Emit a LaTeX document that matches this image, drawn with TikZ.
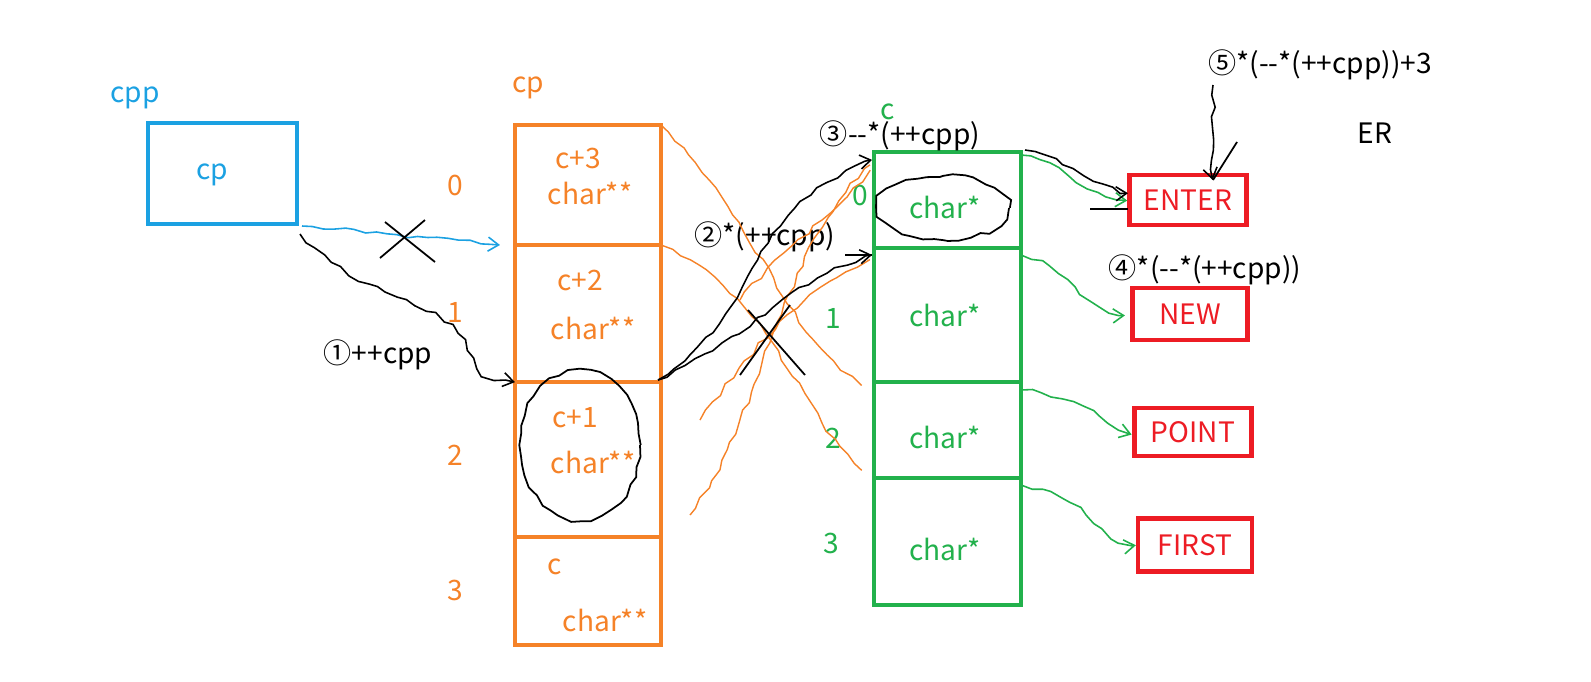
\documentclass[tikz,border=0pt]{standalone}
\usepackage{fontspec}
\setmainfont{Noto Sans CJK SC}
\usetikzlibrary{arrows.meta,decorations.pathmorphing}
\definecolor{cblue}{RGB}{27,161,226}
\definecolor{corange}{RGB}{245,130,40}
\definecolor{cgreen}{RGB}{34,177,76}
\definecolor{cred}{RGB}{237,28,36}
\tikzset{
  txt/.style={font=\fontsize{16}{19}\selectfont, inner sep=0pt},
  hand/.style={decorate, decoration={random steps, segment length=6pt, amplitude=1.2pt}},
  arr/.style={-{Straight Barb[length=6pt,width=8pt]}, line width=0.9pt, hand},
  str/.style={draw=cred, text=cred, line width=2.4pt, txt},
}
\begin{document}
\begin{tikzpicture}[x=0.02cm,y=-0.02cm]
\pgfmathsetseed{7}
\begin{pgfinterruptboundingbox}
% cpp
\node[txt, cblue] (lcpp) at (135,98) {cpp};
\draw[cblue, line width=2.4pt] (148,123) rectangle (297,224);
\node[txt, cblue] (cp0) at (212,175) {cp};
\coordinate (cppR) at (302,226);
% cp column (orange)
\node[txt, corange] (lcp) at (528,88) {cp};
\foreach \a/\b in {125/245,245/382,382/537,537/645}
  \draw[corange, line width=2.4pt] (515,\a) rectangle (661,\b);
\coordinate (r0) at (661,125); \coordinate (r1) at (661,245);
\coordinate (r3) at (515,382);
\coordinate (r4) at (658,380);
\node[txt, corange] (a0) at (578,158) {c+3};
\node[txt, corange] (b0) at (590,193) {char**};
\node[txt, corange] (a1) at (580,280) {c+2};
\node[txt, corange] (b1) at (593,328) {char**};
\node[txt, corange] (a2) at (575,418) {c+1};
\node[txt, corange] (b2) at (593,462) {char**};
\node[txt, corange] (a3) at (555,567) {c};
\node[txt, corange] (b3) at (605,620) {char**};
\foreach \t/\y in {0/185,1/312,2/455,3/590}
  \node[txt, corange] (io\t) at (455,\y) {\t};
% c column (green)
\node[txt, cgreen] (lc) at (888,112) {c};
\foreach \a/\b in {152/248,248/382,382/478,478/605}
  \draw[cgreen, line width=2.4pt] (874,\a) rectangle (1021,\b);
\foreach \t/\y in {0/207,1/315,2/437,3/549}
  \node[txt, cgreen] (ch\t) at (945,\y) {char*};
\node[txt, cgreen] (ig0) at (860,195) {0};
\node[txt, cgreen] (ig1) at (833,318) {1};
\node[txt, cgreen] (ig2) at (833,438) {2};
\node[txt, cgreen] (ig3) at (831,543) {3};
% strings (red)
\node[str, minimum width=117*0.02cm, minimum height=50*0.02cm] (s0) at (1188,200) {ENTER};
\node[str, minimum width=115*0.02cm, minimum height=52*0.02cm] (s1) at (1190,314) {NEW};
\node[str, minimum width=117*0.02cm, minimum height=48*0.02cm] (s2) at (1193,432) {POINT};
\node[str, minimum width=114*0.02cm, minimum height=53*0.02cm] (s3) at (1195,545) {FIRST};
% annotations
\node[txt] (n5) at (1320,65) {⑤*({-}{-}*(++cpp))+3};
\node[txt] (er) at (1375,133) {ER};
\node[txt] (n3) at (900,136) {③{-}{-}*(++cpp)};
\node[txt] (n2) at (765,237) {②*(++cpp)};
\node[txt] (n4) at (1205,270) {④*({-}{-}*(++cpp))};
\node[txt] (n1) at (378,355) {①++cpp};
% blue arrow with cross
\draw[cblue, arr] (cppR) -- (500,245);
\draw[line width=1pt] (385,222) -- (435,262) (380,258) -- (425,220);
% black ++cpp
\draw[arr] (300,234) .. controls (360,300) and (440,300) .. (465,340) .. controls (480,380) .. (r3);
% orange hand lines
\draw[corange, line width=0.8pt, hand] (r0) .. controls (760,220) and (780,330) .. (862,385);
\draw[corange, line width=0.8pt, hand] (r1) .. controls (780,300) and (800,420) .. (862,470);
\draw[corange, line width=0.8pt, hand] (690,515) .. controls (760,420) and (780,250) .. (870,165);
\draw[corange, line width=0.8pt, hand] (700,420) .. controls (760,340) and (800,290) .. (870,260);
\draw[corange, line width=0.8pt, hand] (740,300) .. controls (790,240) and (820,230) .. (870,170);
% black arrows from c+1
\draw[arr] (r4) .. controls (760,320) and (740,210) .. (872,160);
\draw[arr] (r4) .. controls (760,330) and (790,280) .. (872,255);
\draw[line width=1pt] (748,310) -- (805,375) (740,375) -- (790,305);
\draw[line width=1pt] (845,255) -- (872,255);
% circles
\draw[line width=1pt, hand] (580,445) ellipse (60 and 75);
\draw[line width=1pt, hand] (943,208) ellipse (66 and 32);
% green arrows
\draw[cgreen, arr] (1021,155) .. controls (1060,160) and (1080,195) .. (s0.west);
\draw[cgreen, arr] (1021,255) .. controls (1080,270) and (1080,315) .. (1125,315);
\draw[cgreen, arr] (1021,390) .. controls (1100,400) and (1100,430) .. (s2.west);
\draw[cgreen, arr] (1021,485) .. controls (1100,500) and (1090,540) .. (s3.west);
% black arrows to ENTER
\draw[arr] (1025,150) .. controls (1070,160) and (1090,185) .. (1128,193);
\draw[line width=1pt] (1090,209) -- (1128,209);
\draw[arr] (1213,85) .. controls (1215,130) and (1210,150) .. (1213,180);
\draw[line width=1pt] (1213,180) -- (1237,142);
\end{pgfinterruptboundingbox}
\useasboundingbox (0,0) rectangle (1591,681);
\end{tikzpicture}
\end{document}
